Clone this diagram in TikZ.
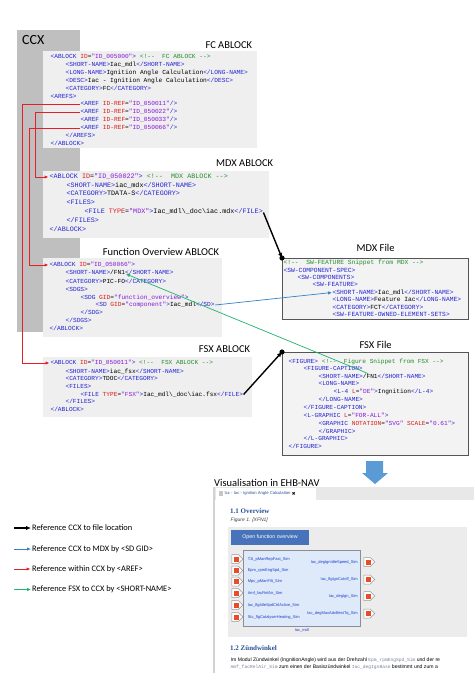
\documentclass[tikz,border=0pt]{standalone}
\usepackage{fontspec}
\setmonofont{Liberation Mono}
\newfontfamily\carlito{Carlito}
\newfontfamily\uifont{Liberation Sans}
\newfontfamily\uiserif{Liberation Serif}
\newfontfamily\symfont{DejaVu Sans}
\usepackage{xcolor}
\usepackage{tikz}
\usetikzlibrary{positioning, arrows.meta, calc, shapes.symbols}

\definecolor{ccxgray}{RGB}{191,191,191}
\definecolor{blockgray}{RGB}{239,239,239}
\definecolor{filegray}{RGB}{243,243,243}
\definecolor{fileborder}{RGB}{85,85,85}
\definecolor{xmltag}{RGB}{35,35,210}
\definecolor{xmlatt}{RGB}{220,25,25}
\definecolor{xmlval}{RGB}{135,25,215}
\definecolor{xmlcom}{RGB}{35,140,45}
\definecolor{arefred}{RGB}{230,30,40}
\definecolor{sdblue}{RGB}{50,130,200}
\definecolor{sngreen}{RGB}{30,180,110}
\definecolor{bigblue}{RGB}{91,155,213}
\definecolor{tabgray}{RGB}{232,232,232}
\definecolor{panelgray}{RGB}{236,236,236}
\definecolor{btnblue}{RGB}{70,115,185}
\definecolor{compblue}{RGB}{222,234,250}
\definecolor{compborder}{RGB}{140,140,150}
\definecolor{portgray}{RGB}{150,150,150}
\definecolor{portred}{RGB}{232,76,40}
\definecolor{uiblue}{RGB}{40,80,150}
\definecolor{pinblue}{RGB}{30,60,200}
\definecolor{varcol}{RGB}{120,130,155}
\definecolor{framegray}{RGB}{210,210,210}

\newcommand\xtg[1]{\textcolor{xmltag}{#1}}
\newcommand\xat[1]{\textcolor{xmlatt}{#1}}
\newcommand\xvl[1]{\textcolor{xmlval}{#1}}
\newcommand\xcm[1]{\textcolor{xmlcom}{#1}}
\newcommand\uivar[1]{{\ttfamily\fontsize{4.6}{5}\selectfont\textcolor{varcol}{#1}}}

\begin{document}
\begin{tikzpicture}[x=1pt, y=-1pt, >={Latex[length=4pt, width=3.4pt]},
    code/.style={anchor=west, inner sep=0.4pt, text height=4.3pt, text depth=1.3pt, font=\ttfamily\fontsize{#1}{8}\selectfont},
    code/.default=6.2,
    ccxcol/.style={fill=ccxgray, anchor=north west, inner sep=0},
    ablock/.style={fill=blockgray, anchor=north west, inner sep=0},
    filebox/.style={draw=fileborder, line width=1.2pt, fill=filegray, anchor=north west, inner sep=0},
    title/.style={font=\carlito\fontsize{10.5}{12}\selectfont, inner sep=1pt},
    legend/.style={anchor=west, font=\carlito\fontsize{8.4}{10}\selectfont, inner sep=1pt, text height=5.8pt, text depth=1.8pt},
    aref/.style={->, draw=arefred, line width=0.8pt, shorten >=0.5pt},
    ccxfile/.style={-{Latex[length=5pt, width=4.5pt]}, line width=1.4pt},
    sdgid/.style={->, draw=sdblue, line width=0.7pt},
    shortname/.style={->, draw=sngreen, line width=0.7pt},
    ui/.style={anchor=west, inner sep=0.5pt, font=\uifont\fontsize{4.2}{5}\selectfont},
    uihead/.style={anchor=west, inner sep=0.5pt, text=uiblue, font=\uiserif\bfseries\fontsize{7}{8}\selectfont},
    uitext/.style={anchor=west, inner sep=0.5pt, font=\uifont\fontsize{5.1}{6}\selectfont},
    button/.style={fill=btnblue, text=white, minimum width=78pt, minimum height=15pt, inner sep=0, font=\uifont\fontsize{5.3}{6}\selectfont},
    comp/.style={fill=compblue, draw=compborder, line width=0.6pt, anchor=north west, inner sep=0},
    port/.style={signal, signal to=east, draw=portgray, fill=white, line width=0.5pt, minimum width=11pt, minimum height=9pt, inner sep=0,
      path picture={\fill[portred] ([xshift=-1pt]path picture bounding box.center) ++(-2.5pt,-2.5pt) rectangle ++(5pt,5pt);}},
    pinlabel/.style={inner sep=0.5pt, text=pinblue, font=\uifont\fontsize{4}{5}\selectfont}]

    \useasboundingbox (0,0) rectangle (474,684);
    \fill[white] (0,0) rectangle (474,684);

    % CCX column and blocks
    \node[ccxcol, minimum width=63pt, minimum height=302pt] (ccx) at (17,30) {};
    \node[title, font=\carlito\fontsize{14}{16}\selectfont, anchor=north west, below right=4.5pt and 4pt of ccx.north west] (ccxt) {CCX};
    \node[ablock, minimum width=214pt, minimum height=97pt] (fcbox) at (43,51) {};
    \node[ablock, minimum width=226pt, minimum height=67pt] (mdbox) at (43,171) {};
    \node[ablock, minimum width=179pt, minimum height=79pt] (fobox) at (43,258) {};
    \node[ablock, minimum width=209pt, minimum height=60pt] (fxbox) at (43,357) {};
    \node[filebox, minimum width=186pt, minimum height=61pt] (mfbox) at (282,258) {};
    \node[filebox, minimum width=186pt, minimum height=103pt] (ffbox) at (282,352) {};

    % Titles
    \node[title, above left=1.5pt and 4pt of fcbox.north east] (fct) {FC ABLOCK};
    \node[title, above left=3.5pt and -5pt of mdbox.north east] (mdt) {MDX ABLOCK};
    \node[title, above left=1.5pt and 2pt of fobox.north east] (fot) {Function Overview ABLOCK};
    \node[title, above left=3.5pt and 1pt of fxbox.north east] (fxt) {FSX ABLOCK};
    \node[title, above=5.5pt of mfbox.north] (mft) {MDX File};
    \node[title, above=2.5pt of ffbox.north] (fft) {FSX File};

    % FC ABLOCK
    \node[code] (fc1) at (50,57) {\xtg{<ABLOCK} \xat{ID}=\xvl{"ID\_005000"}\xtg{>} \xcm{<!-{}-\ \ FC ABLOCK -{}->}};
    \node[code] (fc2) at (65,65) {\xtg{<SHORT-NAME>}Iac\_mdl\xtg{</SHORT-NAME>}};
    \node[code] (fc3) at (65,73) {\xtg{<LONG-NAME>}Ignition Angle Calculation\xtg{</LONG-NAME>}};
    \node[code] (fc4) at (65,81) {\xtg{<DESC>}Iac - Ignition Angle Calculation\xtg{</DESC>}};
    \node[code] (fc5) at (65,89) {\xtg{<CATEGORY>}FC\xtg{</CATEGORY>}};
    \node[code] (fc6) at (50,97) {\xtg{<AREFS>}};
    \node[code] (fc7) at (80,104.5) {\xtg{<AREF} \xat{ID-REF}=\xvl{"ID\_050011"}\xtg{/>}};
    \node[code] (fc8) at (80,112.5) {\xtg{<AREF} \xat{ID-REF}=\xvl{"ID\_050022"}\xtg{/>}};
    \node[code] (fc9) at (80,120.5) {\xtg{<AREF} \xat{ID-REF}=\xvl{"ID\_050033"}\xtg{/>}};
    \node[code] (fc10) at (80,128.5) {\xtg{<AREF} \xat{ID-REF}=\xvl{"ID\_050066"}\xtg{/>}};
    \node[code] (fc11) at (65,136) {\xtg{</AREFS>}};
    \node[code] (fc12) at (50,144) {\xtg{</ABLOCK>}};

    % MDX ABLOCK
    \node[code=6.75] (md1) at (49,177) {\xtg{<ABLOCK} \xat{ID}=\xvl{"ID\_050022"}\xtg{>} \xcm{<!-{}-\ \ MDX ABLOCK -{}->}};
    \node[code=6.75] (md2) at (66,186) {\xtg{<SHORT-NAME>}iac\_mdx\xtg{</SHORT-NAME>}};
    \node[code=6.75] (md3) at (66,194.5) {\xtg{<CATEGORY>}TDATA-S\xtg{</CATEGORY>}};
    \node[code=6.75] (md4) at (66,203.5) {\xtg{<FILES>}};
    \node[code=6.75] (md5) at (84,212.5) {\xtg{<FILE} \xat{TYPE}=\xvl{"MDX"}\xtg{>}Iac\_mdl\textbackslash\_doc\textbackslash iac.mdx\xtg{</FILE>}};
    \node[code=6.75] (md6) at (66,221.5) {\xtg{</FILES>}};
    \node[code=6.75] (md7) at (49,230.5) {\xtg{</ABLOCK>}};

    % Function Overview ABLOCK
    \node[code] (fo1) at (49,265) {\xtg{<ABLOCK} \xat{ID}=\xvl{"ID\_050066"}\xtg{>}};
    \node[code] (fo2) at (65,273) {\xtg{<SHORT-NAME>}/FN1\xtg{</SHORT-NAME>}};
    \node[code] (fo3) at (65,281.5) {\xtg{<CATEGORY>}PIC-FO\xtg{</CATEGORY>}};
    \node[code] (fo4) at (65,289.5) {\xtg{<SDGS>}};
    \node[code] (fo5) at (80,297.5) {\xtg{<SDG} \xat{GID}=\xvl{"function\_overview"}\xtg{>}};
    \node[code] (fo6) at (95,305) {\xtg{<SD} \xat{GID}=\xvl{"component"}\xtg{>}Iac\_mdl\xtg{</SD>}};
    \node[code] (fo7) at (80,313) {\xtg{</SDG>}};
    \node[code] (fo8) at (65,321) {\xtg{</SDGS>}};
    \node[code] (fo9) at (49,329) {\xtg{</ABLOCK>}};

    % FSX ABLOCK
    \node[code=6.15] (fx1) at (50,363) {\xtg{<ABLOCK} \xat{ID}=\xvl{"ID\_050011"}\xtg{>} \xcm{<!-{}-\ \ FSX ABLOCK -{}->}};
    \node[code=6.15] (fx2) at (65,371.5) {\xtg{<SHORT-NAME>}iac\_fsx\xtg{</SHORT-NAME>}};
    \node[code=6.15] (fx3) at (65,379) {\xtg{<CATEGORY>}TDOC\xtg{</CATEGORY>}};
    \node[code=6.15] (fx4) at (65,387) {\xtg{<FILES>}};
    \node[code=6.15] (fx5) at (80,394.5) {\xtg{<FILE} \xat{TYPE}=\xvl{"FSX"}\xtg{>}Iac\_mdl\textbackslash\_doc\textbackslash iac.fsx\xtg{</FILE>}};
    \node[code=6.15] (fx6) at (65,402) {\xtg{</FILES>}};
    \node[code=6.15] (fx7) at (50,410) {\xtg{</ABLOCK>}};

    % MDX File
    \node[code=6.3] (mf1) at (283,263) {\xcm{<!-{}-\ \ SW-FEATURE Snippet from MDX -{}->}};
    \node[code=6.3] (mf2) at (283,270.5) {\xtg{<SW-COMPONENT-SPEC>}};
    \node[code=6.3] (mf3) at (297,278) {\xtg{<SW-COMPONENTS>}};
    \node[code=6.3] (mf4) at (312,285) {\xtg{<SW-FEATURE>}};
    \node[code=6.3] (mf5) at (332,292.5) {\xtg{<SHORT-NAME>}Iac\_mdl\xtg{</SHORT-NAME>}};
    \node[code=6.3] (mf6) at (332,300) {\xtg{<LONG-NAME>}Feature Iac\xtg{</LONG-NAME>}};
    \node[code=6.3] (mf7) at (332,307.5) {\xtg{<CATEGORY>}FCT\xtg{</CATEGORY>}};
    \node[code=6.3] (mf8) at (332,315) {\xtg{<SW-FEATURE-OWNED-ELEMENT-SETS>}};

    % FSX File
    \node[code=6.15] (ff1) at (288,361.5) {\xtg{<FIGURE>} \xcm{<!-{}-\ \ Figure Snippet from FSX -{}->}};
    \node[code=6.15] (ff2) at (303,369) {\xtg{<FIGURE-CAPTION>}};
    \node[code=6.15] (ff3) at (318,376.5) {\xtg{<SHORT-NAME>}/FN1\xtg{</SHORT-NAME>}};
    \node[code=6.15] (ff4) at (318,384) {\xtg{<LONG-NAME>}};
    \node[code=6.15] (ff5) at (333,392) {\xtg{<L-4} \xat{L}=\xvl{"DE"}\xtg{>}Ingnition\xtg{</L-4>}};
    \node[code=6.15] (ff6) at (318,400) {\xtg{</LONG-NAME>}};
    \node[code=6.15] (ff7) at (303,407.5) {\xtg{</FIGURE-CAPTION>}};
    \node[code=6.15] (ff8) at (303,415.5) {\xtg{<L-GRAPHIC} \xat{L}=\xvl{"FOR-ALL"}\xtg{>}};
    \node[code=6.15] (ff9) at (318,423.5) {\xtg{<GRAPHIC} \xat{NOTATION}=\xvl{"SVG"} \xat{SCALE}=\xvl{"0.61"}\xtg{>}};
    \node[code=6.15] (ff10) at (318,431.5) {\xtg{</GRAPHIC>}};
    \node[code=6.15] (ff11) at (303,439) {\xtg{</L-GRAPHIC>}};
    \node[code=6.15] (ff12) at (288,446.5) {\xtg{</FIGURE>}};

    % References
    \draw[aref] (fc7.west) -- ++(-57.5,0) |- (fx1.west);
    \draw[aref] (fc8.west) -- ++(-45,0) |- (md1.west);
    \draw[aref] (fc10.west) -- ++(-51,0) |- (fo1.west);
    \draw[ccxfile] (md5.east) -- (mfbox.north west);
    \fill (mfbox.north west) circle (2.6pt);
    \draw[ccxfile] (fx5.east) -- (ffbox.north west);
    \fill (ffbox.north west) circle (2.6pt);
    \draw[sdgid] (fo6.east) -- (mf5.west);
    \coordinate (fsxfn) at ($(ff3.west)+(50,-3)$);
    \coordinate (fofn) at ($(fo2.west)+(61,1)$);
    \draw[shortname] (fsxfn) -- (fofn);

    % Legend
    \node[legend] (lg1) at (31,528) {Reference CCX to file location};
    \node[legend] (lg2) at (31,549) {Reference CCX to MDX by <SD GID>};
    \node[legend] (lg3) at (31,569) {Reference within CCX by <AREF>};
    \node[legend] (lg4) at (31,589.5) {Reference FSX to CCX by <SHORT-NAME>};
    \coordinate[left=17pt of lg1.west] (lg1s);
    \coordinate[left=17pt of lg2.west] (lg2s);
    \coordinate[left=17pt of lg3.west] (lg3s);
    \coordinate[left=17pt of lg4.west] (lg4s);
    \draw[ccxfile] (lg1s) -- (lg1.west);
    \draw[sdgid] (lg2s) -- (lg2.west);
    \draw[aref] (lg3s) -- (lg3.west);
    \draw[shortname] (lg4s) -- (lg4.west);

    % Down arrow
    \fill[bigblue] (366,461) -- (383,461) -- (383,473) -- (388,473) -- (375,484) -- (362,473) -- (366,473) -- cycle;
    \node[title, anchor=west] (vis) at (213,483) {Visualisation in EHB-NAV};

    % Screenshot of EHB-NAV
    \begin{scope}
      \clip (205,486) rectangle (474,684);
      \fill[tabgray] (214,487) rectangle (474,500);
      \fill[white] (216,488) rectangle (316,500);
      \draw[framegray, line width=1.5pt] (214,487) -- (214,673);
      \fill[gray!45] (218.5,491) rectangle (223,496);
      \node[ui, text=uiblue] (tab) at (224,493.5) {Icc - Iac - Ignition Angle Calculation};
      \node[anchor=west, inner sep=0.5pt, font=\symfont\fontsize{4.5}{5}\selectfont] (tabx) at (tab.east) {✖};
      \node[uihead] (ov) at (229.5,511) {1.1 Overview};
      \node[ui, font=\uifont\itshape\fontsize{5}{6}\selectfont, text=darkgray] (fig) at (230,520) {Figure 1. [XFN1]};
      \fill[panelgray] (228,527) rectangle (467,637);
      \node[button] (open) at (270,537.5) {Open function overview};
      \node[comp, minimum width=117pt, minimum height=76pt] (iacmdl) at (243,550) {};
      \node[pinlabel, below=1.5pt of iacmdl] (iacl) {Iac\_mdl};
      % input ports
      \node[port] (in1) at (235,559) {};
      \node[port] (in2) at (235,570.5) {};
      \node[port] (in3) at (235,581.5) {};
      \node[port] (in4) at (235,593) {};
      \node[port] (in5) at (235,605) {};
      \node[port] (in6) at (235,617) {};
      \node[pinlabel, anchor=west, right=4pt of in1] (inl1) {T2i\_pManRepFast\_Sim};
      \node[pinlabel, anchor=west, right=4pt of in2] (inl2) {Epm\_rpmEngSpd\_Sim};
      \node[pinlabel, anchor=west, right=4pt of in3] (inl3) {Mpc\_pManFilt\_Sim};
      \node[pinlabel, anchor=west, right=4pt of in4] (inl4) {Amf\_facRelAir\_Sim};
      \node[pinlabel, anchor=west, right=4pt of in5] (inl5) {Iac\_flgIdleSpdCtrlActive\_Sim};
      \node[pinlabel, anchor=west, right=4pt of in6] (inl6) {Stc\_flgCatalyserHeating\_Sim};
      % output ports
      \node[port] (out1) at (367,562) {};
      \node[port] (out2) at (367,579.5) {};
      \node[port] (out3) at (367,596) {};
      \node[port] (out4) at (367,613.5) {};
      \node[pinlabel, left=5pt of out1] (outl1) {Iac\_degIgnIdleSpeed\_Sim};
      \node[pinlabel, left=5pt of out2] (outl2) {Iac\_flgIgnCutoff\_Sim};
      \node[pinlabel, left=5pt of out3] (outl3) {Iac\_degIgn\_Sim};
      \node[pinlabel, left=5pt of out4] (outl4) {Iac\_degMaxAdvBestTq\_Sim};
      \node[uihead] (zw) at (229.5,648) {1.2 Zündwinkel};
      \node[uitext] (par1) at (230,660) {Im Modul Zündwinkel (IngnitionAngle) wird aus der Drehzahl \uivar{Epm\_rpmEngSpd\_Sim} und der re};
      \node[uitext] (par2) at (230,667.5) {\uivar{Amf\_facRelAir\_Sim} zum einen der Basiszündwinkel \uivar{Iac\_degIgnBase} bestimmt und zum a};
    \end{scope}
\end{tikzpicture}
\end{document}
